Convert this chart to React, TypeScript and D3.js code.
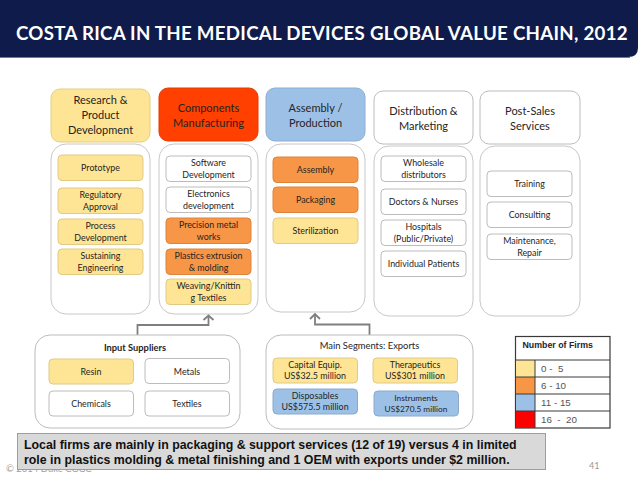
import { useEffect } from "react";
import * as d3 from "d3";

// firm count bands, "" means no local firms
const bandLabels = ["0 -  5", "6 - 10", "11 - 15", "16  -  20"];
const bandColors = ["#fee595", "#f79646", "#9dc1e6", "#fe0000"];

const stageNames = [
  "Research &|Product|Development",
  "Components|Manufacturing",
  "Assembly /|Production",
  "Distribution &|Marketing",
  "Post-Sales|Services",
];

const researchItems = ["Prototype", "Regulatory|Approval", "Process|Development", "Sustaining|Engineering"];
const researchBands = ["0 -  5", "0 -  5", "0 -  5", "0 -  5"];
const componentItems = [
  "Software|Development",
  "Electronics|development",
  "Precision metal|works",
  "Plastics extrusion|& molding",
  "Weaving/Knittin|g Textiles",
];
const componentBands = ["", "", "6 - 10", "6 - 10", "0 -  5"];
const assemblyItems = ["Assembly", "Packaging", "Sterilization"];
const assemblyBands = ["6 - 10", "6 - 10", "0 -  5"];
const distributionItems = ["Wholesale|distributors", "Doctors & Nurses", "Hospitals|(Public/Private)", "Individual Patients"];
const distributionBands = ["", "", "", ""];
const serviceItems = ["Training", "Consulting", "Maintenance,|Repair"];
const serviceBands = ["", "", ""];

const supplierItems = ["Resin", "Metals", "Chemicals", "Textiles"];
const supplierBands = ["0 -  5", "", "", ""];
const exportItems = ["Capital Equip.|US$32.5 million", "Disposables|US$575.5 million", "Therapeutics|US$301 million", "Instruments|US$270.5 million"];
const exportBands = ["0 -  5", "11 - 15", "0 -  5", "11 - 15"];

const titleText = "COSTA RICA IN THE MEDICAL DEVICES GLOBAL VALUE CHAIN, 2012";
const noteLines = [
  "Local firms are mainly in packaging & support services (12 of 19) versus 4 in limited",
  "role in plastics molding & metal finishing and 1 OEM with exports under $2 million.",
];

const WIDTH = 638;
const HEIGHT = 478;
const FONT = "Lato, sans-serif";
const ARIAL = "'Liberation Sans', Arial, sans-serif";
const INK = "#26241f";

// layout, kept apart from the values
const columnLeft = [51, 159, 266, 374, 480];
const headerTop = [89, 88, 88, 91, 91];
const headerShift = [0, 1, 1, 1, 1];
const bodyTop = [144, 144, 144, 146, 146];
const bodyBottom = [314, 314, 312, 316, 316];
const itemTops = [
  [155, 188, 219, 249],
  [156, 187, 218, 249, 279],
  [157, 187, 218],
  [156, 189, 220, 251],
  [171, 202, 234],
];

const App = () => {
  useEffect(() => {
    document.body.style.margin = "0";
    const svg = d3.select<SVGSVGElement, unknown>("#chart");
    svg.selectAll("*").remove();

    const fill = d3.scaleOrdinal<string, string>().domain(bandLabels).range(bandColors).unknown("#ffffff");
    const edge = (band: string) => {
      const c = fill(band);
      return c === "#ffffff" ? "#bcbcbc" : d3.color(c)!.darker(0.35).formatHex();
    };

    const label = (
      text: string,
      cx: number,
      cy: number,
      size: number,
      lineHeight: number,
      color = INK,
      weight = 400,
    ) => {
      const lines = text.split("|");
      lines.forEach((l, i) => {
        svg
          .append("text")
          .attr("x", cx)
          .attr("y", cy + (i - (lines.length - 1) / 2) * lineHeight + size * 0.35)
          .attr("text-anchor", "middle")
          .attr("font-family", FONT)
          .attr("font-size", size)
          .attr("font-weight", weight)
          .attr("fill", color)
          .text(l);
      });
    };

    const box = (x: number, y: number, w: number, h: number, r: number, f: string, s: string, sw = 1) =>
      svg
        .append("rect")
        .attr("x", x)
        .attr("y", y)
        .attr("width", w)
        .attr("height", h)
        .attr("rx", r)
        .attr("fill", f)
        .attr("stroke", s)
        .attr("stroke-width", sw);

    // title band
    svg
      .append("path")
      .attr("d", "M0,0H638V48Q638,57 628,57H0Z")
      .attr("fill", "#0f1c4b");
    svg.append("line").attr("x1", 0).attr("x2", 630).attr("y1", 57.5).attr("y2", 57.5).attr("stroke", "#5d7fb5");
    svg
      .append("text")
      .attr("x", 16)
      .attr("y", 39.5)
      .attr("font-family", FONT)
      .attr("font-size", 18.7)
      .attr("font-weight", 700)
      .attr("letter-spacing", 0.28)
      .attr("fill", "#ffffff")
      .text(titleText);

    // value chain columns
    const columnItems = [researchItems, componentItems, assemblyItems, distributionItems, serviceItems];
    const columnBands = [researchBands, componentBands, assemblyBands, distributionBands, serviceBands];
    const headerFill = ["#fee595", "#ff4000", "#9dc1e6", "#ffffff", "#ffffff"];

    stageNames.forEach((name, c) => {
      const x = columnLeft[c];
      const w = c === 4 ? 100 : 99;
      box(x, headerTop[c], w, 53, 9, headerFill[c], c < 3 ? d3.color(headerFill[c])!.darker(0.3).formatHex() : "#bcbcbc");
      label(name, x + w / 2, headerTop[c] + 26.5 + headerShift[c], 11, 15);
      box(x, bodyTop[c], w, bodyBottom[c] - bodyTop[c], 15, "#ffffff", "#c8c8c8");

      columnItems[c].forEach((item, i) => {
        const band = columnBands[c][i];
        box(x + 7, itemTops[c][i], 85, 25.5, 4, fill(band), edge(band));
        label(item, x + 49.5, itemTops[c][i] + 12.7, 8.9, 11.7);
      });
    });

    // arrows from the bottom panels up to the chain
    const arrow = d3.line();
    const arrowPaths: [number, number][][] = [
      [[137.5, 335], [137.5, 325], [208.5, 325], [208.5, 316]],
      [[203.5, 320], [208.5, 315.5], [213.5, 320]],
      [[369.5, 335], [369.5, 324.5], [315, 324.5], [315, 314]],
      [[310, 319], [315, 314], [320, 319]],
    ];
    arrowPaths.forEach((p) =>
      svg.append("path").attr("d", arrow(p)).attr("fill", "none").attr("stroke", "#7f7f7f").attr("stroke-width", 1.8),
    );

    // input suppliers panel
    box(35, 335, 205, 93, 15, "#ffffff", "#bcbcbc");
    label("Input Suppliers", 135, 348, 9.3, 12, INK, 700);
    const supplierX = [49, 145, 49, 145];
    const supplierY = [359, 358.5, 391, 391];
    supplierItems.forEach((item, i) => {
      box(supplierX[i], supplierY[i], 84.5, 25, 4, fill(supplierBands[i]), edge(supplierBands[i]));
      label(item, supplierX[i] + 42, supplierY[i] + 13, 8.9, 12);
    });

    // exports panel
    box(266, 335, 207, 94, 15, "#ffffff", "#bcbcbc");
    label("Main Segments: Exports", 369.5, 346, 9.4, 12);
    const exportX = [273, 273, 373, 374];
    const exportY = [358, 389, 358, 391];
    exportItems.forEach((item, i) => {
      box(exportX[i], exportY[i], 84.5, 25, 4, fill(exportBands[i]), edge(exportBands[i]));
      label(item, exportX[i] + 42, exportY[i] + 12.5, i === 3 ? 8.3 : 8.9, 11);
    });

    // legend table
    const legendY = d3.scaleBand<string>().domain(bandLabels).range([360, 428]);
    box(515.5, 336.5, 94.5, 91.5, 0, "#ffffff", "#3a3a3a", 1.2);
    svg
      .append("text")
      .attr("x", 522.5)
      .attr("y", 348)
      .attr("font-family", ARIAL)
      .attr("font-size", 8.8)
      .attr("font-weight", 700)
      .attr("fill", INK)
      .text("Number of Firms");
    bandLabels.forEach((b) => {
      const y = legendY(b)!;
      const h = legendY.bandwidth();
      svg.append("rect").attr("x", 516).attr("y", y).attr("width", 19).attr("height", h).attr("fill", fill(b));
      svg.append("line").attr("x1", 515.5).attr("x2", 610).attr("y1", y).attr("y2", y).attr("stroke", "#3a3a3a");
      svg
        .append("text")
        .attr("x", 541)
        .attr("y", y + h / 2 + 3.5)
        .attr("font-family", ARIAL)
        .attr("font-size", 9.8)
        .attr("fill", "#555555")
        .style("white-space", "pre")
        .text(b);
    });
    svg.append("line").attr("x1", 535).attr("x2", 535).attr("y1", 360).attr("y2", 428).attr("stroke", "#3a3a3a");

    // footer, the note box sits over part of the copyright line as in the slide
    svg
      .append("text")
      .attr("x", 6)
      .attr("y", 472)
      .attr("font-family", FONT)
      .attr("font-size", 9.5)
      .attr("fill", "#a0a0a0")
      .text("© 2014 Duke CGGC");
    svg
      .append("text")
      .attr("x", 589)
      .attr("y", 469)
      .attr("font-family", FONT)
      .attr("font-size", 9)
      .attr("fill", "#9a9a9a")
      .text("41");

    // takeaway note
    box(17.5, 433.5, 528, 36, 0, "#d9d9d9", "#c98a8a");
    noteLines.forEach((l, i) => {
      svg
        .append("text")
        .attr("x", 24)
        .attr("y", 448.5 + i * 15)
        .attr("font-family", ARIAL)
        .attr("font-size", 12.35)
        .attr("font-weight", 700)
        .attr("fill", "#111111")
        .text(l);
    });
  }, []);

  return <svg id="chart" width={WIDTH} height={HEIGHT} style={{ display: "block" }} />;
};

export default App;
